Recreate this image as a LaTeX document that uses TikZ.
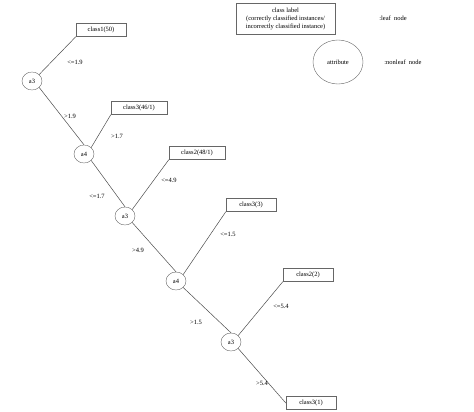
\documentclass[tikz,border=0pt]{standalone}
\usepackage{fontspec}
\setmainfont{Liberation Serif}
\usetikzlibrary{shapes.geometric}
\begin{document}
\begin{tikzpicture}[x=1pt,y=-1pt,font=\fontsize{6.5}{7.5}\selectfont,
 leaf/.style={draw=black!60,rectangle,inner sep=2pt,minimum height=13pt,text width=46pt,align=center},
 nl/.style={draw=black!60,ellipse,minimum width=20pt,minimum height=18pt,inner sep=0pt},
 ed/.style={draw=black!70,line width=0.5pt},
 lb/.style={inner sep=0pt}]
\useasboundingbox (0,0) rectangle (474,412);
\node[nl] (n1) at (32,81) {a3};
\node[leaf] (c1) at (101,30) {class1(50)};
\node[nl] (n2) at (84,154) {a4};
\node[leaf,text width=52pt] (c2) at (139,108) {class3(46/1)};
\node[nl] (n3) at (125,216) {a3};
\node[leaf,text width=52pt] (c3) at (197,153) {class2(48/1)};
\node[nl] (n4) at (176,281) {a4};
\node[leaf] (c4) at (251,205) {class3(3)};
\node[nl] (n5) at (231,342) {a3};
\node[leaf] (c5) at (308,275) {class2(2)};
\node[leaf] (c6) at (311,403) {class3(1)};
\draw[ed] (n1.north east) -- (c1.south west);
\draw[ed] (n1.south east) -- (n2.north);
\draw[ed] (n2.north east) -- (c2.south west);
\draw[ed] (n2.south east) -- (n3.north);
\draw[ed] (n3.north east) -- (c3.south west);
\draw[ed] (n3.south east) -- (n4.north);
\draw[ed] (n4.north east) -- (c4.south west);
\draw[ed] (n4.south east) -- (n5.north);
\draw[ed] (n5.north east) -- (c5.south west);
\draw[ed] (n5.south east) -- (c6.west);
\node[lb] (l1) at (75,62) {<=1.9};
\node[lb] (l2) at (70,116) {>1.9};
\node[lb] (l3) at (117,136) {>1.7};
\node[lb] (l4) at (97,196) {<=1.7};
\node[lb] (l5) at (169,180) {<=4.9};
\node[lb] (l6) at (138,250) {>4.9};
\node[lb] (l7) at (228,234) {<=1.5};
\node[lb] (l8) at (196,322) {>1.5};
\node[lb] (l9) at (281,306) {<=5.4};
\node[lb] (l10) at (262,383) {>5.4};
\node[draw=black!60,rectangle,minimum width=99pt,minimum height=31pt,align=center,inner sep=1pt,font=\fontsize{6.5}{7.8}\selectfont] (lg) at (285.5,19) {class label\\(correctly classified instances/\\incorrectly classified instance)};
\node[lb] (lgt) at (393,18) {:leaf\ \ node};
\node[draw=black!60,ellipse,minimum width=50pt,minimum height=44pt] (le) at (338,62) {attribute};
\node[lb] (let) at (403,62) {:nonleaf\ \ node};
\end{tikzpicture}
\end{document}
